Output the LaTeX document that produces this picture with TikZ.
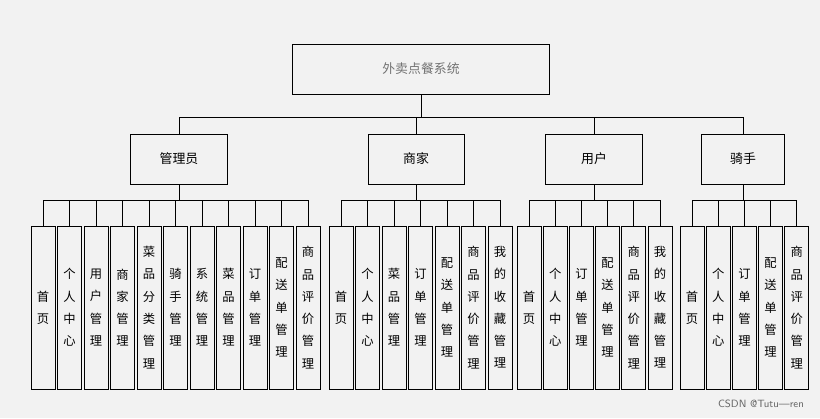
\documentclass[tikz,border=0pt]{standalone}
\usepackage{fontspec}
\newfontfamily\cjk{Noto Sans CJK SC}
\begin{document}
\begin{tikzpicture}[x=0.03cm,y=-0.03cm,
  box/.style={draw,thick,fill=white!95!black,inner sep=0pt,font=\cjk\fontsize{11}{13}\selectfont},
  leaf/.style={draw,thick,fill=white!95!black,minimum width=24*0.03cm,minimum height=163*0.03cm,inner sep=0pt,align=center,font=\cjk\fontsize{10.5}{19}\selectfont},
  ln/.style={thick}]
\fill[white!95!black] (0,0) rectangle (820,418);
\useasboundingbox (0,0) rectangle (820,418);
\node[box,minimum width=257*0.03cm,minimum height=50*0.03cm,text=black!55] (top) at (421,69) {外卖点餐系统};
\node[box,minimum width=97*0.03cm,minimum height=50*0.03cm] (g1) at (179,159) {管理员};
\node[box,minimum width=96*0.03cm,minimum height=50*0.03cm] (g2) at (416,159) {商家};
\node[box,minimum width=97*0.03cm,minimum height=50*0.03cm] (g3) at (594,159) {用户};
\node[box,minimum width=83*0.03cm,minimum height=50*0.03cm] (g4) at (743,159) {骑手};
\coordinate (tb) at (421,117);
\draw[ln] (top.south) -- (tb);
\draw[ln] (g1.north|-tb) -- (g4.north|-tb);
\foreach \g in {g1,g2,g3,g4} \draw[ln] (\g.north|-tb) -- (\g.north);
% leaves
\def\leafrow#1#2#3#4{%
  \foreach \t [count=\i from 0] in {#4} {
    \node[leaf] (#1\i) at ({#2+\i*#3},307.5) {\t};
  }}
\leafrow{a}{43}{26.5}{首\\页,个\\人\\中\\心,用\\户\\管\\理,商\\家\\管\\理,菜\\品\\分\\类\\管\\理,骑\\手\\管\\理,系\\统\\管\\理,菜\\品\\管\\理,订\\单\\管\\理,配\\送\\单\\管\\理,商\\品\\评\\价\\管\\理}
\leafrow{b}{341}{26.5}{首\\页,个\\人\\中\\心,菜\\品\\管\\理,订\\单\\管\\理,配\\送\\单\\管\\理,商\\品\\评\\价\\管\\理,我\\的\\收\\藏\\管\\理}
\leafrow{c}{529}{26.2}{首\\页,个\\人\\中\\心,订\\单\\管\\理,配\\送\\单\\管\\理,商\\品\\评\\价\\管\\理,我\\的\\收\\藏\\管\\理}
\leafrow{d}{692}{26.2}{首\\页,个\\人\\中\\心,订\\单\\管\\理,配\\送\\单\\管\\理,商\\品\\评\\价\\管\\理}
\def\bus#1#2#3{%
  \coordinate (#1bus) at (0,200);
  \draw[ln] (#2) -- (#2|-#1bus);
  \draw[ln] (#10.north|-#1bus) -- (#1#3.north|-#1bus);
  \foreach \i in {0,...,#3} \draw[ln] (#1\i.north|-#1bus) -- (#1\i.north);}
\bus{a}{g1.south}{10}
\bus{b}{g2.south}{6}
\bus{c}{g3.south}{5}
\bus{d}{g4.south}{4}
\node[font=\fontsize{9}{10}\selectfont\sffamily,text=black!60,anchor=east] (wm) at (808,404) {CSDN @Tutu—ren};
\end{tikzpicture}
\end{document}
